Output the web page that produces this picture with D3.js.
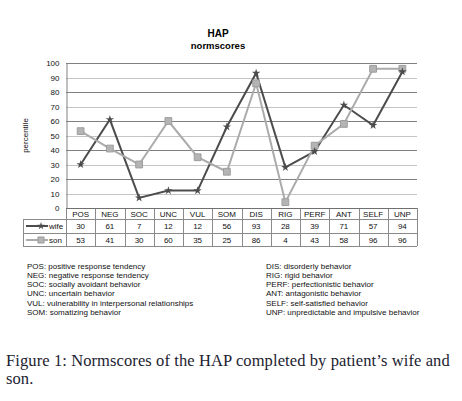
<!doctype html>
<html>
<head>
<meta charset="utf-8"/>
<script src="https://cdnjs.cloudflare.com/ajax/libs/d3/7.8.5/d3.min.js"></script>
<style>
  body { margin: 0; background: #fff; }
  text { font-family: Arial, "Liberation Sans", sans-serif; }
  .grid-major { stroke: #808080; stroke-width: 1px; }
  .grid-minor { stroke: #c4c4c4; stroke-width: 1px; }
  .cell { font-size: 8px; fill: #111; text-anchor: middle; }
  .note { font-size: 8px; fill: #111; }
  .caption { font-family: "Liberation Serif", "DejaVu Serif", serif; font-size: 16.5px; letter-spacing: 0.1px; fill: #1c1c30; }
</style>
</head>
<body>
<svg id="chart" width="462" height="401"></svg>
<script>
var categories = ["POS", "NEG", "SOC", "UNC", "VUL", "SOM", "DIS", "RIG", "PERF", "ANT", "SELF", "UNP"];
var wife = [30, 61, 7, 12, 12, 56, 93, 28, 39, 71, 57, 94];
var son = [53, 41, 30, 60, 35, 25, 86, 4, 43, 58, 96, 96];
var yTicks = [0, 10, 20, 30, 40, 50, 60, 70, 80, 90, 100];
var notesLeft = [
  "POS: positive response tendency",
  "NEG: negative response tendency",
  "SOC: socially avoidant behavior",
  "UNC: uncertain behavior",
  "VUL: vulnerability in interpersonal relationships",
  "SOM: somatizing behavior"
];
var notesRight = [
  "DIS: disorderly behavior",
  "RIG: rigid behavior",
  "PERF: perfectionistic behavior",
  "ANT: antagonistic behavior",
  "SELF:  self-satisfied behavior",
  "UNP: unpredictable and impulsive behavior"
];

var svg = d3.select("#chart");
var plotLeft = 66, plotRight = 417, plotTop = 63, plotBottom = 208;
var legendLeft = 23;
var rowH = [11, 14, 13];

var x = d3.scaleBand().domain(categories).range([plotLeft, plotRight]);
var y = d3.scaleLinear().domain([0, 100]).range([plotBottom, plotTop]);

// title
svg.append("text").attr("x", 218).attr("y", 37).attr("text-anchor", "middle")
  .style("font-size", "10px").style("font-weight", "bold").text("HAP");
svg.append("text").attr("x", 218).attr("y", 49).attr("text-anchor", "middle")
  .style("font-size", "9.5px").style("font-weight", "bold").text("normscores");

// gridlines
svg.append("g").selectAll("line").data(yTicks.filter(d => d > 0)).enter().append("line")
  .attr("class", d => d % 20 == 0 ? "grid-major" : "grid-minor")
  .attr("x1", plotLeft).attr("x2", plotRight)
  .attr("y1", d => Math.round(y(d)) + 0.5).attr("y2", d => Math.round(y(d)) + 0.5);

// y axis
var yAxis = d3.axisLeft(y).tickValues(yTicks).tickSize(0).tickPadding(7);
var ag = svg.append("g").attr("transform", "translate(" + (plotLeft + 0.5) + ",0)").call(yAxis);
ag.select(".domain").attr("stroke", "#808080");
ag.selectAll("text").style("font-size", "8px").style("font-family", "Arial").attr("fill", "#111");

svg.append("text").attr("transform", "translate(28," + ((plotTop + plotBottom) / 2) + ") rotate(-90)")
  .attr("text-anchor", "middle").style("font-size", "8px").attr("fill", "#111").text("percentile");

// table
var t = svg.append("g").attr("stroke", "#8a8a8a").attr("stroke-width", 1);
var r0 = plotBottom, r1 = plotBottom + rowH[0], r2 = r1 + rowH[1], r3 = r2 + rowH[2];
[r1, r2, r3].forEach(function (yy) {
  t.append("line").attr("x1", legendLeft).attr("x2", plotRight).attr("y1", yy + 0.5).attr("y2", yy + 0.5);
});
t.append("line").attr("x1", legendLeft + 0.5).attr("x2", legendLeft + 0.5).attr("y1", r1).attr("y2", r3);
t.selectAll(".sep").data(categories.concat(["end"])).enter().append("line")
  .attr("x1", (d, i) => Math.round(plotLeft + i * x.bandwidth()) + 0.5)
  .attr("x2", (d, i) => Math.round(plotLeft + i * x.bandwidth()) + 0.5)
  .attr("y1", r0).attr("y2", r3);
svg.append("line").attr("x1", plotLeft).attr("x2", plotRight).attr("y1", plotBottom + 0.5).attr("y2", plotBottom + 0.5)
  .attr("stroke", "#707070");

var cx = d => x(d) + x.bandwidth() / 2;
svg.append("g").selectAll("text").data(categories).enter().append("text")
  .attr("class", "cell").attr("x", cx).attr("y", r0 + 9).text(d => d);
svg.append("g").selectAll("text").data(wife).enter().append("text")
  .attr("class", "cell").attr("x", (d, i) => cx(categories[i])).attr("y", r1 + 10).text(d => d);
svg.append("g").selectAll("text").data(son).enter().append("text")
  .attr("class", "cell").attr("x", (d, i) => cx(categories[i])).attr("y", r2 + 10).text(d => d);

// series
var series = [
  { name: "wife", values: wife, color: "#4c4c4c", fill: "#4c4c4c", symbol: d3.symbolStar, size: 22, row: r1 },
  { name: "son", values: son, color: "#ababab", fill: "#b4b4b4", symbol: d3.symbolSquare, size: 46, row: r2 }
];
var line = d3.line().x((d, i) => cx(categories[i])).y(d => y(d));

series.forEach(function (s) {
  svg.append("path").datum(s.values).attr("d", line)
    .attr("fill", "none").attr("stroke", s.color).attr("stroke-width", 2);
});
series.slice().reverse().forEach(function (s) {
  svg.append("g").selectAll("path").data(s.values).enter().append("path")
    .attr("d", d3.symbol().type(s.symbol).size(s.size))
    .attr("transform", (d, i) => "translate(" + cx(categories[i]) + "," + y(d) + ")")
    .attr("fill", s.fill).attr("stroke", s.name == "son" ? "#9d9d9d" : "none");
});

// legend inside table
series.forEach(function (s) {
  var ly = s.row + 7;
  svg.append("line").attr("x1", 26).attr("x2", 48).attr("y1", ly).attr("y2", ly)
    .attr("stroke", s.color).attr("stroke-width", 2);
  svg.append("path").attr("d", d3.symbol().type(s.symbol).size(s.size * 0.8))
    .attr("transform", "translate(41," + ly + ")")
    .attr("fill", s.fill).attr("stroke", s.name == "son" ? "#9d9d9d" : "none");
  svg.append("text").attr("x", 49).attr("y", ly + 3).style("font-size", "8px").attr("fill", "#111").text(s.name);
});

// notes
svg.append("g").selectAll("text").data(notesLeft).enter().append("text")
  .attr("class", "note").attr("x", 27).attr("y", (d, i) => 268.5 + i * 9.3).text(d => d);
svg.append("g").selectAll("text").data(notesRight).enter().append("text")
  .attr("class", "note").attr("x", 266).attr("y", (d, i) => 268.5 + i * 9.3).text(d => d);

// caption
svg.append("text").attr("class", "caption").attr("x", 6).attr("y", 366)
  .text("Figure 1: Normscores of the HAP completed by patient\u2019s wife and");
svg.append("text").attr("class", "caption").attr("x", 6).attr("y", 383.5).text("son.");
</script>
</body>
</html>
